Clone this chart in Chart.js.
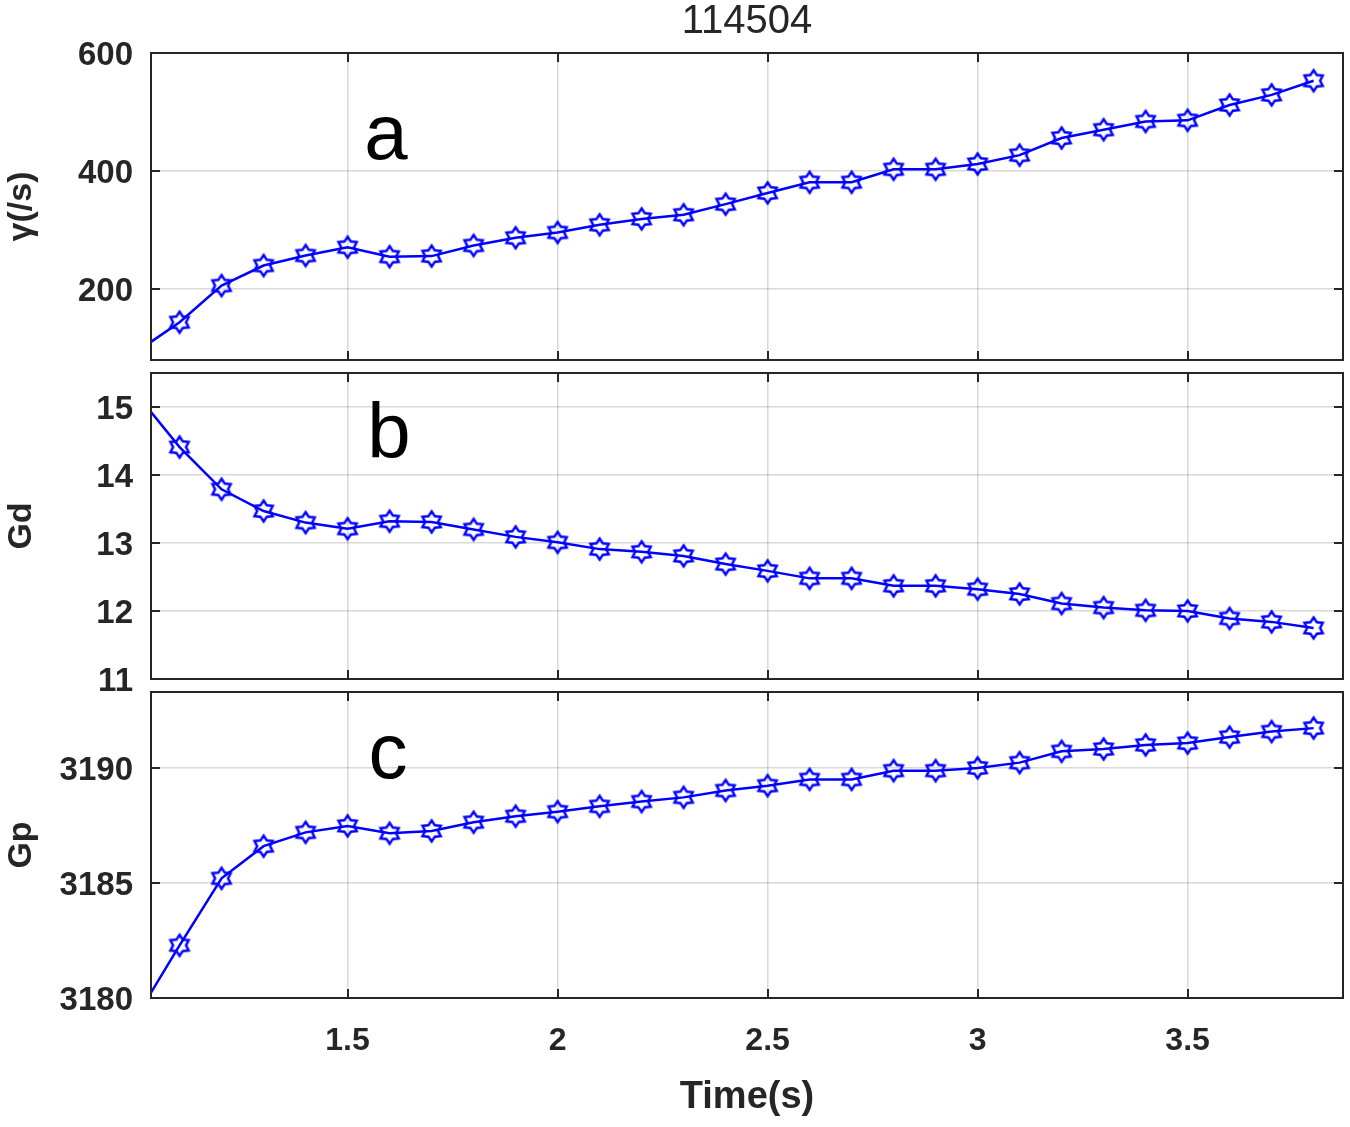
<!DOCTYPE html>
<html><head><meta charset="utf-8">
<script src="https://cdn.jsdelivr.net/npm/chart.js@4.4.1/dist/chart.umd.min.js"></script>
<style>
html,body{margin:0;padding:0;background:#fff;}
#wrap{position:relative;width:1350px;height:1127px;background:#fff;}
canvas{position:absolute;left:0;top:0;}
</style></head><body>
<div id="wrap">
<canvas id="ca" width="1350" height="1127"></canvas>
<canvas id="cb" width="1350" height="1127"></canvas>
<canvas id="cc" width="1350" height="1127"></canvas>
</div>
<script>
const chartTitle = '114504';
const times = [1.0,1.1,1.2,1.3,1.4,1.5,1.6,1.7,1.8,1.9,2.0,2.1,2.2,2.3,2.4,2.5,2.6,2.7,2.8,2.9,3.0,3.1,3.2,3.3,3.4,3.5,3.6,3.7,3.8];
const gammaRate = [95,144,206,240,257,271,255,256,274,287,296,309,319,326,344,363,381,381,403,403,412,427,456,470,484,486,512,529,553];
const gdValues = [15.17,14.41,13.79,13.47,13.30,13.21,13.32,13.31,13.20,13.09,13.01,12.91,12.87,12.81,12.69,12.59,12.48,12.48,12.37,12.37,12.32,12.25,12.11,12.05,12.01,12.00,11.89,11.84,11.75];
const gpValues = [3179.27,3182.29,3185.2,3186.6,3187.2,3187.48,3187.16,3187.26,3187.64,3187.9,3188.1,3188.33,3188.54,3188.72,3189.02,3189.23,3189.5,3189.5,3189.88,3189.88,3190.0,3190.23,3190.72,3190.82,3191.0,3191.08,3191.34,3191.58,3191.73];
const xTicks = [1.5,2,2.5,3,3.5];
const gammaTicks = [200,400,600];
const gdTicks = [11,12,13,14,15];
const gpTicks = [3180,3185,3190];
const xTitle = 'Time(s)';
const yTitles = ['γ(/s)','Gd','Gp'];
const panelLetters = ['a','b','c'];

const FONT = '"Liberation Sans", Arial, Helvetica, sans-serif';
const AXC = '#262626';

function hexagram(R, lw, color) {
  const size = 28;
  const c = document.createElement('canvas'); c.width = size; c.height = size;
  const g = c.getContext('2d');
  const cx = size/2, r = R*0.62;
  g.beginPath();
  for (let i=0;i<12;i++){
    const ang = -Math.PI/2 + i*Math.PI/6;
    const rad = (i%2===0)?R:r;
    const x = cx+rad*Math.cos(ang), y = cx+rad*Math.sin(ang);
    if (i) g.lineTo(x,y); else g.moveTo(x,y);
  }
  g.closePath(); g.strokeStyle=color; g.lineWidth=lw; g.lineJoin='miter'; g.stroke();
  return c;
}
const marker = hexagram(10.5, 2.5, '#0000ff');

const framePlugin = {
  id: 'frame',
  afterDatasetsDraw(chart, args, opts) {
    const {ctx, chartArea: a, scales} = chart;
    ctx.save();
    ctx.strokeStyle = AXC; ctx.lineWidth = 2;
    const tl = 9;
    ctx.beginPath();
    scales.x.ticks.forEach(t => {
      const px = Math.round(scales.x.getPixelForValue(t.value));
      ctx.moveTo(px, a.bottom); ctx.lineTo(px, a.bottom - tl);
      ctx.moveTo(px, a.top); ctx.lineTo(px, a.top + tl);
    });
    scales.y.ticks.forEach(t => {
      const py = Math.round(scales.y.getPixelForValue(t.value));
      ctx.moveTo(a.left, py); ctx.lineTo(a.left + tl, py);
      ctx.moveTo(a.right, py); ctx.lineTo(a.right - tl, py);
    });
    ctx.stroke();
    ctx.strokeRect(a.left, a.top, a.width, a.height);
    ctx.fillStyle = '#000';
    ctx.font = '78px ' + FONT;
    ctx.textAlign = 'center'; ctx.textBaseline = 'alphabetic';
    ctx.fillText(opts.letter, a.left + opts.dx, a.top + opts.dy);
    if (opts.title) {
      ctx.font = '40px ' + FONT; ctx.fillStyle = AXC;
      ctx.fillText(opts.title, (a.left + a.right)/2, 33);
    }
    ctx.restore();
  }
};

function makePanel(id, values, yMin, yMax, yTicks, yTitle, letter, dx, dy, top, bottom, showX, title) {
  const H = 1127;
  new Chart(document.getElementById(id), {
    type: 'line',
    data: { datasets: [{
      data: times.map((t,i)=>({x:t, y:values[i]})),
      borderColor: '#0000ff', borderWidth: 2.5, tension: 0,
      pointStyle: marker, pointRadius: 10, pointHoverRadius: 10,
      backgroundColor: 'transparent'
    }]},
    options: {
      responsive: false, animation: false, devicePixelRatio: 1,
      events: [],
      layout: { autoPadding: false, padding: { top: top, bottom: showX ? 0 : H - bottom, left: 0, right: 7 } },
      plugins: { legend: {display:false}, tooltip: {enabled:false}, title: {display:false},
        frame: { letter, dx, dy, title } },
      scales: {
        x: {
          type: 'linear', min: 1.032, max: 3.87,
          afterBuildTicks: s => { s.ticks = xTicks.map(v=>({value:v})); },
          afterFit: s => { s.height = showX ? H - bottom : 0; },
          grid: { color: 'rgba(0,0,0,0.15)', lineWidth: 1.5, drawTicks: false },
          border: { display: false },
          ticks: { display: showX, color: AXC, font: { family: FONT, size: 32, weight: 'bold' }, padding: 24, maxRotation: 0, autoSkip: false,
                   callback: v => String(v) },
          title: { display: showX, text: xTitle, color: AXC, font: { family: FONT, size: 38, weight: 'bold' }, padding: { top: 0, bottom: 7 } }
        },
        y: {
          type: 'linear', min: yMin, max: yMax,
          afterBuildTicks: s => { s.ticks = yTicks.map(v=>({value:v})); },
          afterFit: s => { s.width = 151; },
          grid: { color: 'rgba(0,0,0,0.15)', lineWidth: 1.5, drawTicks: false },
          border: { display: false },
          ticks: { color: AXC, font: { family: FONT, size: 33, weight: 'bold' }, padding: 18, autoSkip: false, labelOffset: 3,
                   callback: v => String(v) },
          title: { display: true, text: yTitle, color: AXC, font: { family: FONT, size: 34, weight: 'bold' }, padding: { top: 1, bottom: 0 } }
        }
      }
    },
    plugins: [framePlugin]
  });
}

makePanel('ca', gammaRate, 80, 600, gammaTicks, yTitles[0], panelLetters[0], 235, 106, 53, 360, false, chartTitle);
makePanel('cb', gdValues, 11, 15.5, gdTicks, yTitles[1], panelLetters[1], 238, 85, 373, 679, false, null);
makePanel('cc', gpValues, 3180, 3193.3, gpTicks, yTitles[2], panelLetters[2], 237, 86, 692, 998, true, null);
</script>
</body></html>
